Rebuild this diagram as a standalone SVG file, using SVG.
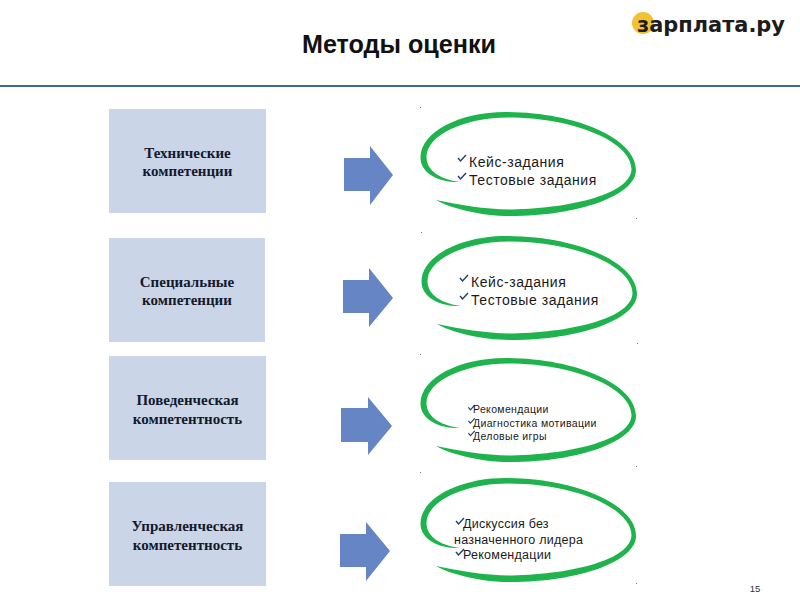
<svg xmlns="http://www.w3.org/2000/svg" xmlns:xlink="http://www.w3.org/1999/xlink" width="800" height="600" viewBox="0 0 800 600">
<style>
.box{fill:#cad5e8}
.bt{font:bold 15px "Liberation Serif",serif;fill:#14192a;text-anchor:middle}
.arrow{fill:#6685c4}
.ring{fill:#1fb34d}
.li{font:14px "Liberation Sans",sans-serif;fill:#1a1a1a;letter-spacing:.55px}
.li2{font:12.500px "Liberation Sans",sans-serif;fill:#1a1a1a;letter-spacing:.25px}
.sm{font:10.500px "Liberation Sans",sans-serif;fill:#1a1a1a;letter-spacing:.35px}
.ck{fill:none;stroke:#1f3f6e;stroke-width:1.4}
.sp{fill:#777}
</style>
<defs>
<path id="swoosh" d="M460,182 C442,183 421,175 420.500,158 C420,132 460,112 505,112 C575,112 636,138 636,170 C636,195 580,216 510,216 C480,216 450,208 436,200 C460,205 485,209.500 512,209.500 C575,208 631,193 631.500,169 C631,142 575,117.500 508,117.500 C465,117.500 426.500,135 426.500,157 C426.500,172 443,180 460,182Z"/>
<path id="ck" d="M0,3 L2.500,6 L8,0"/>
</defs>
<rect width="800" height="600" fill="#fff"/>
<text x="399" y="53" text-anchor="middle" font-family="Liberation Sans, sans-serif" font-weight="bold" font-size="25" fill="#111" textLength="194" lengthAdjust="spacingAndGlyphs">Методы оценки</text>
<rect x="0" y="85" width="800" height="2" fill="#3f6797"/>
<g id="logo">
<circle cx="643" cy="23" r="11" fill="#f3c232"/>
<text x="637" y="32" font-family="DejaVu Sans, sans-serif" font-weight="bold" font-size="22" fill="#1c1c1c" textLength="148" lengthAdjust="spacingAndGlyphs">зарплата.ру</text>
</g>
<g id="connectors">
<path class="arrow" d="M344,158H370V146L393,175L370,205V191H344Z"/>
<path class="arrow" d="M343,280H369V268L393,298L369,327V313H343Z"/>
<path class="arrow" d="M341,408H368V397L392,426L368,455V442H341Z"/>
<path class="arrow" d="M340,534H366V522L390,551L366,581V567H340Z"/>
</g>
<g id="node1">
<rect class="box" x="109" y="109" width="157" height="104"/>
<text class="bt" x="187.500" y="158">Технические</text>
<text class="bt" x="187.500" y="176">компетенции</text>
</g>
<g id="node2">
<rect class="box" x="109" y="238" width="156" height="104"/>
<text class="bt" x="187" y="287">Специальные</text>
<text class="bt" x="187" y="305">компетенции</text>
</g>
<g id="node3">
<rect class="box" x="109" y="356" width="157" height="104"/>
<text class="bt" x="187.500" y="405">Поведенческая</text>
<text class="bt" x="187.500" y="424">компетентность</text>
</g>
<g id="node4">
<rect class="box" x="109" y="482" width="157" height="104"/>
<text class="bt" x="187.500" y="531">Управленческая</text>
<text class="bt" x="187.500" y="550">компетентность</text>
</g>
<g id="methods1">
<use xlink:href="#swoosh" href="#swoosh" class="ring"/>
<use xlink:href="#ck" href="#ck" class="ck" x="458" y="155"/>
<use xlink:href="#ck" href="#ck" class="ck" x="458" y="173"/>
<text class="li" x="469" y="167">Кейс-задания</text>
<text class="li" x="469" y="185">Тестовые задания</text>
<rect class="sp" x="420" y="107" width="1" height="1"/>
<rect class="sp" x="636" y="218" width="1" height="1"/>
</g>
<g id="methods2">
<use xlink:href="#swoosh" href="#swoosh" class="ring" x="1" y="124"/>
<use xlink:href="#ck" href="#ck" class="ck" x="460" y="275"/>
<use xlink:href="#ck" href="#ck" class="ck" x="460" y="293"/>
<text class="li" x="471" y="287">Кейс-задания</text>
<text class="li" x="471" y="305">Тестовые задания</text>
<rect class="sp" x="421" y="232" width="1" height="1"/>
<rect class="sp" x="637" y="343" width="1" height="1"/>
</g>
<g id="methods3">
<use xlink:href="#swoosh" href="#swoosh" class="ring" y="246"/>
<use xlink:href="#ck" href="#ck" class="ck" x="468" y="405" transform="translate(94,81) scale(.8)"/>
<use xlink:href="#ck" href="#ck" class="ck" x="468" y="418" transform="translate(94,84) scale(.8)"/>
<use xlink:href="#ck" href="#ck" class="ck" x="468" y="431" transform="translate(94,86) scale(.8)"/>
<text class="sm" x="473" y="413">Рекомендации</text>
<text class="sm" x="473" y="427">Диагностика мотивации</text>
<text class="sm" x="473" y="440">Деловые игры</text>
<rect class="sp" x="420" y="354" width="1" height="1"/>
<rect class="sp" x="636" y="466" width="1" height="1"/>
</g>
<g id="methods4">
<use xlink:href="#swoosh" href="#swoosh" class="ring" y="366"/>
<use xlink:href="#ck" href="#ck" class="ck" x="456" y="518"/>
<use xlink:href="#ck" href="#ck" class="ck" x="456" y="549"/>
<text class="li2" x="463" y="528">Дискуссия без</text>
<text class="li2" x="454" y="544">назначенного лидера</text>
<text class="li2" x="463" y="559">Рекомендации</text>
<rect class="sp" x="420" y="472" width="1" height="1"/>
<rect class="sp" x="636" y="583" width="1" height="1"/>
</g>
<text x="755" y="592" text-anchor="middle" font-family="Liberation Sans, sans-serif" font-size="9.500" fill="#333">15</text>
</svg>
